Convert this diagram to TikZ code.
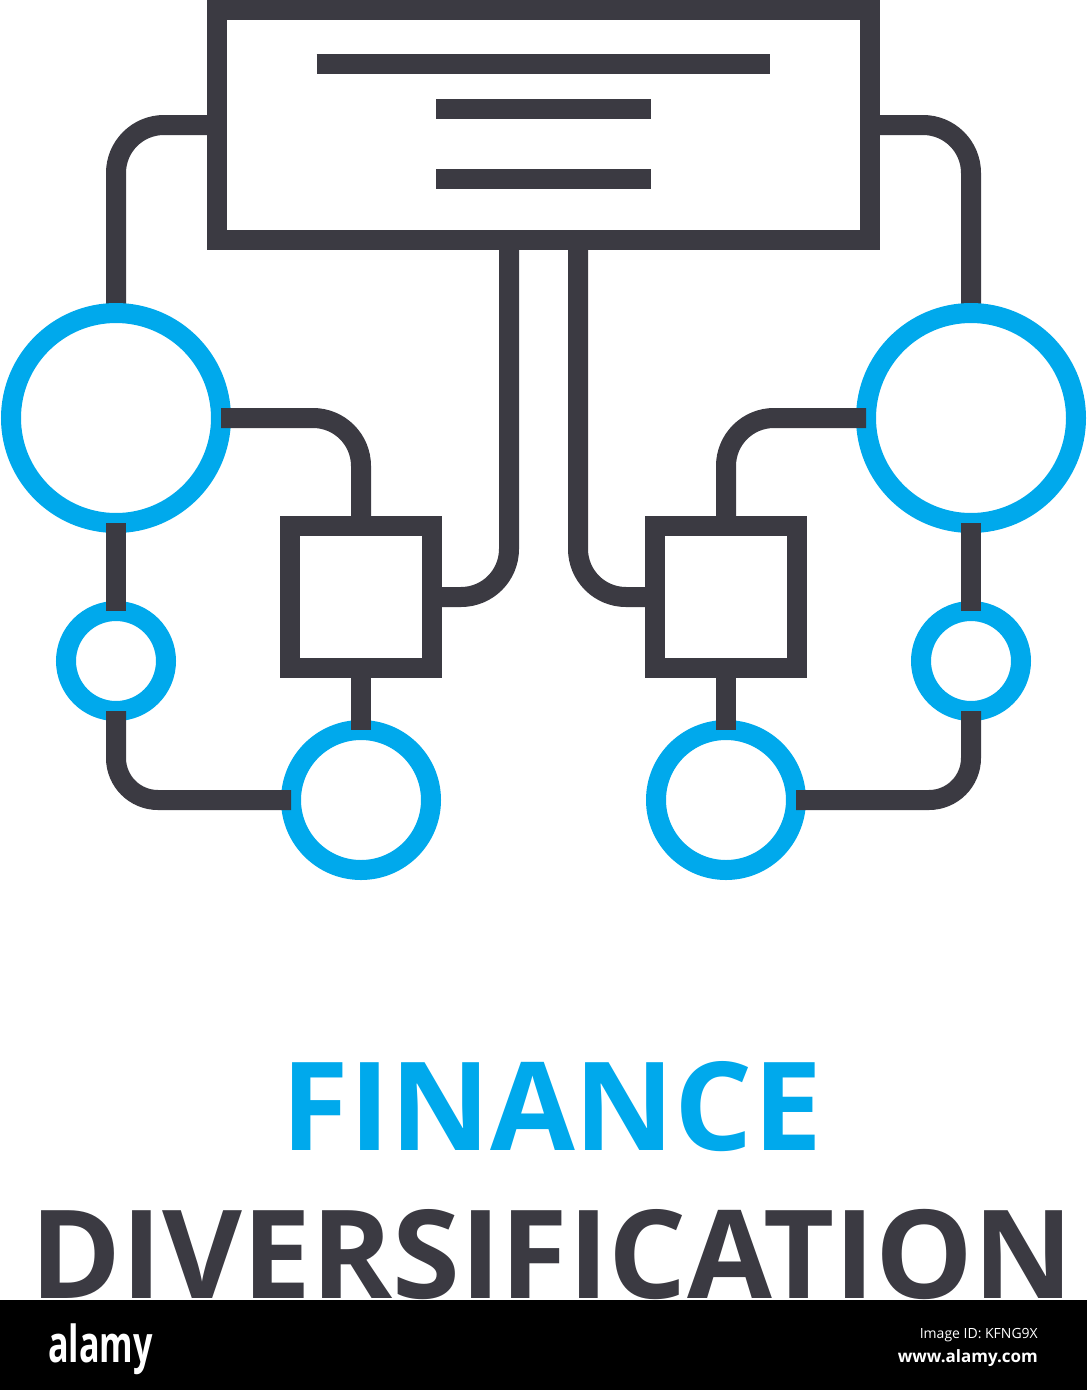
\documentclass[tikz,border=0pt]{standalone}
\usepackage{fontspec}
\setmainfont{Open Sans}
\definecolor{dk}{RGB}{59,58,66}
\definecolor{bl}{RGB}{0,169,236}
\begin{document}
\begin{tikzpicture}[x=1pt,y=-1pt,
  conn/.style={draw=dk,line width=20pt,rounded corners=48pt},
  ring/.style={circle,draw=bl,line width=20pt,inner sep=0pt,outer sep=0pt},
  sqbox/.style={rectangle,draw=dk,line width=20pt,inner sep=0pt,outer sep=0pt,minimum size=142pt},
  txtbar/.style={draw=dk,line width=20pt},
  title/.style={anchor=base,inner sep=0pt,font={\fontsize{123}{130}\selectfont\bfseries}}]
\useasboundingbox (0,0) rectangle (1087,1390);
\fill[white] (0,0) rectangle (1087,1390);
% main box
\node[rectangle,draw=dk,line width=20pt,minimum width=653pt,minimum height=230pt,inner sep=0pt,outer sep=0pt] (box) at (543.5,125) {};
\draw[txtbar] (316.7,64) -- (770,64);
\draw[txtbar] (436,109) -- (651,109);
\draw[txtbar] (436,179) -- (651,179);
% placement
\coordinate (cBLc) at (116,418);
\coordinate (cBRc) at (971,418);
% top connectors (under the rings)
\draw[conn] (box.west) -| (116,313);
\draw[conn] (box.east) -| (971,313);
% rings
\node[ring,minimum size=210pt] (cBL) at (116,418) {};
\node[ring,minimum size=210pt] (cBR) at (971,418) {};
\node[ring,minimum size=100pt] (csL) at (116,661) {};
\node[ring,minimum size=100pt] (csR) at (971,661) {};
\node[ring,minimum size=140pt] (cbL) at (361,800) {};
\node[ring,minimum size=140pt] (cbR) at (726,800) {};
% squares
\node[sqbox] (sqL) at (361,597) {};
\node[sqbox] (sqR) at (726,597) {};
% connectors
\draw[conn] (cBL.east) -| (sqL.north);
\draw[conn] (cBR.west) -| (sqR.north);
\draw[conn] (sqL.east) -| ([xshift=-34.5pt]box.south);
\draw[conn] (sqR.west) -| ([xshift=34.5pt]box.south);
\draw[conn] (cBL.south) -- (csL.north);
\draw[conn] (cBR.south) -- (csR.north);
\draw[conn,rounded corners=42pt] (csL.south) |- (cbL.west);
\draw[conn,rounded corners=42pt] (csR.south) |- (cbR.east);
\draw[conn] (sqL.south) -- (cbL.north);
\draw[conn] (sqR.south) -- (cbR.north);
% titles
\node[title,text=bl] (t1) at (552,1150) {FINANCE};
\node[title,text=dk] (t2) at (552,1298) {DIVERSIFICATION};
% footer bar
\fill[black] (0,1300) rectangle (1087,1390);
\node[anchor=base west,inner sep=0pt,text=white,xscale=0.67,font={\fontsize{51}{55}\selectfont\bfseries}] (logo) at (48,1362) {alamy};
\node[anchor=base east,inner sep=0pt,text=white,font={\fontsize{14}{16}\selectfont}] (imgid) at (1038,1338) {Image ID: KFNG9X};
\node[anchor=base east,inner sep=0pt,text=white,font={\fontsize{17}{20}\selectfont\bfseries}] (www) at (1038,1362) {www.alamy.com};
\end{tikzpicture}
\end{document}
